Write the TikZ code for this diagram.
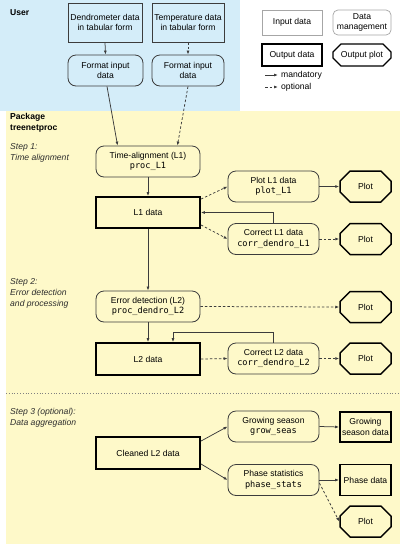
\documentclass[tikz,border=0pt]{standalone}
\usepackage{fontspec}
\setmainfont{Liberation Sans}
\setmonofont{DejaVu Sans Mono}
\usetikzlibrary{shapes.misc,arrows.meta,calc}
\definecolor{userblue}{RGB}{212,237,249}
\definecolor{pkgyellow}{RGB}{254,249,201}
\definecolor{edgegray}{RGB}{60,60,60}
\definecolor{labgray}{RGB}{45,45,45}
\begin{document}
\begin{tikzpicture}[x=1pt,y=-1pt,
  font=\fontsize{8.6}{10.4}\selectfont,
  every node/.style={align=center,inner sep=1pt},
  inbox/.style={draw=edgegray,line width=0.9pt,minimum width=#1,minimum height=39},
  mgmt/.style={draw=edgegray,line width=0.8pt,rounded corners=8pt,minimum width=#1,minimum height=31},
  outbox/.style={draw=black,line width=1.8pt,minimum width=#1,minimum height=31},
  plotbox/.style={draw=black,line width=1.5pt,chamfered rectangle,chamfered rectangle xsep=6pt,chamfered rectangle ysep=6pt,minimum width=51,minimum height=31},
  lab/.style={anchor=north west,align=left,inner sep=0pt,text=labgray,font=\fontsize{8.6}{10.9}\selectfont\itshape},
  head/.style={anchor=north west,align=left,inner sep=0pt,font=\fontsize{8.6}{10.9}\selectfont\bfseries},
  conn/.style={draw=edgegray,line width=0.75pt,-{Latex[length=4pt,width=3pt]}},
  opt/.style={conn,dashed,dash pattern=on 2.5pt off 2pt}]
\useasboundingbox (0,0) rectangle (406,550);
\fill[userblue] (0,0) rectangle (240,111);
\fill[pkgyellow] (6,111) rectangle (400,544);
\draw[gray,line width=0.8pt,dotted] (6,393) -- (400,393);

% headings
\node[head] (huser) at (10,9) {User};
\node[head] (hpkg) at (10,113) {Package\\treenetproc};
\node[lab] (s1) at (10,143) {Step 1:\\Time alignment};
\node[lab] (s2) at (10,278) {Step 2:\\Error detection\\and processing};
\node[lab] (s3) at (10,408) {Step 3 (optional):\\Data aggregation};

% legend
\node[draw=gray!70,line width=0.7pt,fill=white,minimum width=60,minimum height=25] (legin) at (292,22.5) {Input data};
\node[draw=gray!70,line width=0.7pt,fill=white,rounded corners=5pt,minimum width=58,minimum height=25] (legdm) at (362,22.5) {Data\\management};
\node[draw=black,line width=1.6pt,fill=white,minimum width=60,minimum height=22] (legout) at (292,55) {Output data};
\node[draw=black,line width=1.2pt,fill=white,chamfered rectangle,chamfered rectangle xsep=4pt,chamfered rectangle ysep=4pt,minimum width=58,minimum height=22] (legplot) at (362,55) {Output plot};
\coordinate (m1) at (265,75);
\node[anchor=west,inner sep=0pt] (mtext) at (281,75) {mandatory};
\coordinate (o1) at (265,87);
\node[anchor=west,inner sep=0pt] (otext) at (281,87) {optional};
\draw[conn] (m1) -- ($(mtext.west)+(-3,0)$);
\draw[opt] (o1) -- ($(otext.west)+(-3,0)$);

% user
\node[inbox=74] (dendro) at (105,22.5) {Dendrometer data\\in tabular form};
\node[inbox=72] (temp) at (188,22.5) {Temperature data\\in tabular form};
\node[mgmt=75] (fmt1) at (105.5,70.5) {Format input\\data};
\node[mgmt=72] (fmt2) at (188,70.5) {Format input\\data};

% step 1
\node[mgmt=104] (ta) at (148,161.5) {Time-alignment (L1)\\\texttt{proc\_L1}};
\node[outbox=104] (L1) at (148,212.5) {L1 data};
\node[mgmt=91] (pl1) at (273.5,186.5) {Plot L1 data\\\texttt{plot\_L1}};
\node[plotbox] (plot1) at (365.5,186.5) {Plot};
\node[mgmt=91] (cl1) at (273.5,239) {Correct L1 data\\\texttt{corr\_dendro\_L1}};
\node[plotbox] (plot2) at (365.5,239) {Plot};

% step 2
\node[mgmt=104] (ed) at (148,306.5) {Error detection (L2)\\\texttt{proc\_dendro\_L2}};
\node[plotbox] (plot3) at (365.5,307) {Plot};
\node[outbox=104,minimum height=32] (L2) at (148,359) {L2 data};
\node[mgmt=91] (cl2) at (273.5,358.5) {Correct L2 data\\\texttt{corr\_dendro\_L2}};
\node[plotbox] (plot4) at (365.5,358.5) {Plot};

% step 3
\node[outbox=104,minimum height=32] (clean) at (148,453) {Cleaned L2 data};
\node[mgmt=91] (gs) at (273.5,426.5) {Growing season\\\texttt{grow\_seas}};
\node[outbox=51,minimum height=30,inner sep=0pt] (gsd) at (365.5,427) {Growing\\season data};
\node[mgmt=91] (ps) at (273.5,480) {Phase statistics\\\texttt{phase\_stats}};
\node[outbox=51,inner sep=0pt] (pd) at (365.5,480) {Phase data};
\node[plotbox] (plot5) at (365.5,521.5) {Plot};

% connectors
\draw[conn] (dendro.south) -- (fmt1.north);
\draw[opt] (temp.south) -- (fmt2.north);
\draw[conn] ($(fmt1.south)+(1.5,0)$) -- ($(ta.north west)+(22,0)$);
\draw[opt] (fmt2.south) -- ($(ta.north east)+(-23,0)$);
\draw[conn] (ta.south) -- (L1.north);
\draw[opt] ($(L1.north east)+(0,3)$) -- (pl1.west);
\draw[opt] ($(L1.south east)+(0,-4)$) -- (cl1.west);
\draw[conn] (cl1.north) |- (L1.east);
\draw[conn] (pl1.east) -- (plot1.west);
\draw[opt] (cl1.east) -- (plot2.west);
\draw[conn] (L1.south) -- (ed.north);
\draw[opt] (ed.east) -- (plot3.west);
\draw[conn] (ed.south) -- (L2.north);
\draw[opt] (L2.east) -- (cl2.west);
\draw[opt] (cl2.east) -- (plot4.west);
\draw[conn] (cl2.north) -- ++(0,-10) -| ($(L2.north)+(25,0)$);
\draw[conn] ($(clean.north east)+(0,5)$) -- (gs.west);
\draw[conn] ($(clean.south east)+(0,-6)$) -- (ps.west);
\draw[conn] (gs.east) -- (gsd.west);
\draw[conn] (ps.east) -- (pd.west);
\draw[opt] ($(ps.east)+(0,3)$) -- (plot5.west);
\end{tikzpicture}
\end{document}
